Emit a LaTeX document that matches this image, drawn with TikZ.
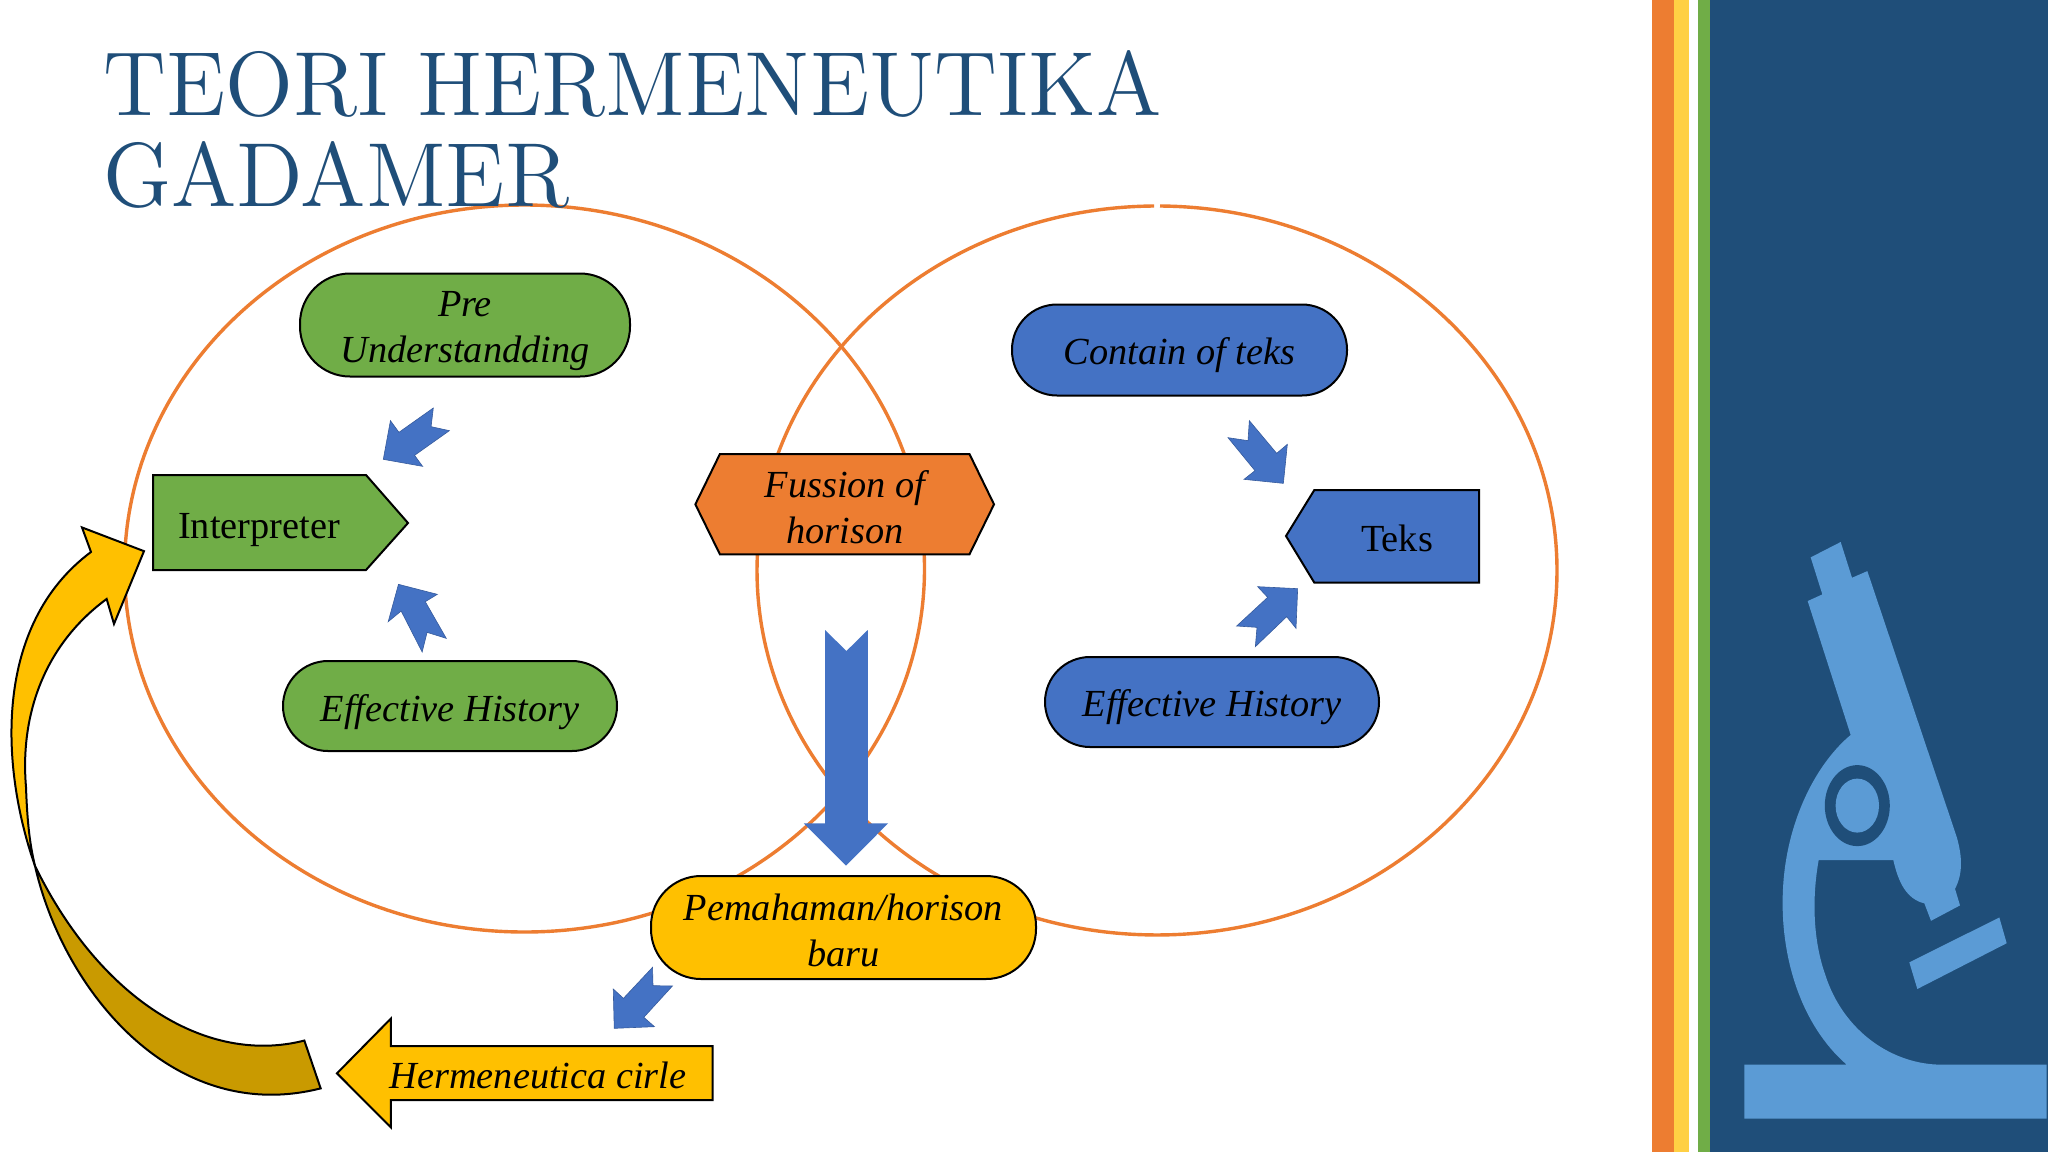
\documentclass[tikz,border=0pt]{standalone}
\usepackage{fontspec}
\newfontfamily\bodyfont{Liberation Serif}
\newfontfamily\titlefont{lmroman12-regular}[Extension=.otf,FakeStretch=0.977]
\definecolor{navy}{HTML}{1F4E79}
\definecolor{skyb}{HTML}{5B9BD5}
\definecolor{orng}{HTML}{ED7D31}
\definecolor{yell}{HTML}{FFD044}
\definecolor{grn}{HTML}{70AD47}
\definecolor{blu}{HTML}{4472C4}
\definecolor{gold}{HTML}{FFC000}
\definecolor{dgold}{HTML}{C99A00}
\tikzset{
  ringline/.style={draw=orng,line width=3.4pt},
  shapeline/.style={draw=black,line width=2pt,line join=miter},
  blockarrow/.style={fill=blu,draw=blu!80!black,line width=0.6pt,line join=miter},
  label/.style={font=\bodyfont\fontsize{38.3}{46}\selectfont,text=black,align=center,inner sep=0pt},
  itlabel/.style={label,font=\bodyfont\itshape\fontsize{38.3}{46}\selectfont},
  pill/.style={shapeline,rounded corners=#1,inner sep=0pt},
  pill/.default=45pt,
  titletext/.style={anchor=base west,inner sep=0pt,text=navy,font=\titlefont\fontsize{91}{91}\selectfont}
}
\begin{document}
\begin{tikzpicture}[x=1pt,y=-1pt]
\useasboundingbox (0,0) rectangle (2048,1152);
\fill[white] (0,0) rectangle (2048,1152);
% side band
\fill[orng] (1652,0) rectangle (1674,1152);
\fill[yell] (1674,0) rectangle (1689,1152);
\fill[grn] (1698,0) rectangle (1710,1152);
\fill[navy] (1710,0) rectangle (2048,1152);
% microscope
\begin{scope}[shift={(1640,500)},x=0.33333pt,y=-0.41580pt]
\fill[skyb] (512,138) -- (602,101) -- (636,187) -- (682,171) -- (950,810)
  .. controls (968,860) and (968,900) .. (945,935) -- (960,975) -- (873,1012) -- (853,970)
  .. controls (800,960) and (775,920) .. (760,866) -- (536,866)
  .. controls (515,960) and (520,1060) .. (555,1140)
  .. controls (610,1280) and (760,1358) .. (905,1358)
  -- (1220,1358) -- (1220,1488) -- (313,1488) -- (313,1358) -- (620,1358)
  .. controls (480,1260) and (425,1100) .. (428,960)
  .. controls (430,790) and (520,640) .. (632,565)
  -- (503,243) -- (547,227) -- cycle;
\fill[skyb] (808,1112) -- (1078,1004) -- (1100,1066) -- (832,1176) -- cycle;
\end{scope}
\fill[navy] (1857.3,805.6) ellipse [x radius=32.5,y radius=40.5];
\fill[skyb] (1857.3,805.6) ellipse [x radius=21.7,y radius=27];
% rings
\draw[ringline] (524.5,568.5) ellipse [x radius=400,y radius=363.5];
\draw[ringline] (1160,206) arc[start angle=-89.57,end angle=269.57,x radius=400,y radius=364.5];
% title
\node[titletext] (title1) at (103,115) {TEORI HERMENEUTIKA};
\node[titletext] (title2) at (103,206) {GADAMER};
% curved arrow
\begin{scope}[shift={(0,500)},x=0.33333pt,y=-0.41580pt]
\filldraw[fill=dgold,shapeline] (105,880) .. controls (190,1180) and (520,1505) .. (962,1415) -- (913,1300)
  .. controls (620,1360) and (300,1200) .. (105,880) -- cycle;
\filldraw[fill=gold,shapeline] (105,880) .. controls (0,640) and (-20,300) .. (273,125) -- (246,66) -- (432,123) -- (342,298) -- (320,238)
  .. controls (130,350) and (60,520) .. (78,690) .. controls (82,780) and (90,830) .. (105,880) -- cycle;
\end{scope}
% green side
\draw[shapeline,fill=grn] (153,475) -- (366,475) -- (408,523) -- (366,570) -- (153,570) -- cycle;
\node[label] (interp) at (259,530) {Interpreter};
\node[pill=50pt,fill=grn,minimum width=330pt,minimum height=103pt] (pre) at (465,325) {};
\node[itlabel] (pretext) at ([yshift=-6pt]pre.center) {Pre\\Understandding};
\node[pill=45pt,fill=grn,minimum width=334pt,minimum height=90pt] (efl) at (450,706) {};
\node[itlabel] (efltext) at ([yshift=-6pt]efl.center) {Effective History};
% blue side
\node[pill=45pt,fill=blu,minimum width=335pt,minimum height=91pt] (cont) at (1179.5,350) {};
\node[itlabel] (conttext) at ([yshift=-5.5pt]cont.center) {Contain of teks};
\node[pill=45pt,fill=blu,minimum width=334pt,minimum height=90pt] (efr) at (1212,702) {};
\node[itlabel] (efrtext) at ([yshift=-5.5pt]efr.center) {Effective History};
\begin{scope}[shift={(1180,400)},x=0.33333pt,y=-0.33333pt]
\draw[shapeline,fill=blu] (318,408) -- (403,270) -- (897,270) -- (897,548) -- (403,548) -- cycle;
\draw[blockarrow] (310,250) -- (322,133) -- (290,160) -- (208,62) -- (204,122) -- (144,113) -- (225,212) -- (192,238) -- cycle;
\draw[blockarrow] (353,566) -- (233,560) -- (263,592) -- (170,678) -- (231,682) -- (226,740) -- (320,650) -- (348,685) -- cycle;
\end{scope}
\node[label] (teks) at (1397,538) {Teks};
% centre
\begin{scope}[shift={(340,380)},x=0.44643pt,y=-0.33333pt]
\draw[shapeline,fill=orng] (796,373) -- (851,222) -- (1410,222) -- (1465,373) -- (1410,523) -- (851,523) -- cycle;
\draw[blockarrow] (97,238) -- (113,122) -- (132,157) -- (209,84) -- (204,140) -- (245,152) -- (167,226) -- (185,259) -- cycle;
\draw[blockarrow] (131,613) -- (218,643) -- (191,665) -- (238,775) -- (195,757) -- (184,816) -- (137,693) -- (108,725) -- cycle;
\end{scope}
\node[itlabel] (fus) at (845,507) {Fussion of\\horison};
% bottom
\begin{scope}[shift={(320,780)},x=0.48473pt,y=-0.33333pt]
\fill[blu] (1042,-450) -- (1086,-387) -- (1130,-450) -- (1130,130) -- (1172,130) -- (1085,257) -- (998,130) -- (1042,130) -- cycle;
\draw[blockarrow] (607,745) -- (605,627) -- (626,655) -- (686,562) -- (687,617) -- (727,618) -- (668,712) -- (690,740) -- cycle;
\draw[shapeline,fill=gold] (35,880) -- (146,716) -- (146,798) -- (810,798) -- (810,960) -- (146,960) -- (146,1042) -- cycle;
\end{scope}
\node[pill=50pt,fill=gold,minimum width=385pt,minimum height=103pt] (pem) at (843.5,927.5) {};
\node[itlabel] (pemtext) at ([yshift=-3pt]pem.center) {Pemahaman/horison\\baru};
\node[itlabel] (herm) at (538,1075) {Hermeneutica cirle};
\end{tikzpicture}
\end{document}
